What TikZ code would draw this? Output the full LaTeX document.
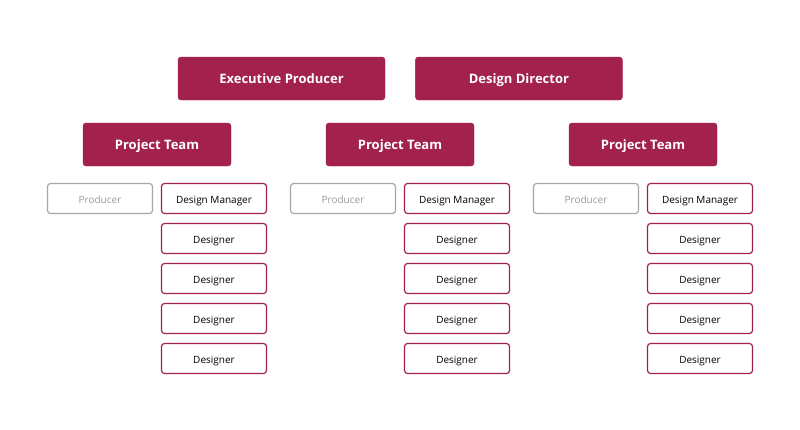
\documentclass[tikz,border=0pt]{standalone}
\usepackage{fontspec}
\setmainfont{Open Sans}
\usetikzlibrary{positioning,calc}
\definecolor{crimson}{HTML}{A3214D}
\definecolor{greyline}{HTML}{A6A6A6}
\definecolor{greytext}{HTML}{9A9A9A}
\tikzstyle{head} = [
  rectangle, fill = crimson, draw = crimson, rounded corners = 3pt,
  text = white, font = \fontsize{13}{15}\selectfont\bfseries,
  minimum width = 207pt, minimum height = 43pt, inner sep = 0pt,
  text height = 2.15ex, text depth = 0.35ex
]
\tikzstyle{team} = [
  head, minimum width = 148pt
]
\tikzstyle{member} = [
  rectangle, draw = crimson, line width = 1.2pt, rounded corners = 3pt,
  fill = white, font = \fontsize{10}{12}\selectfont,
  minimum width = 105pt, minimum height = 30pt, inner sep = 0pt,
  text height = 2.1ex, text depth = 0.35ex
]
\tikzstyle{prod} = [
  member, draw = greyline, text = greytext
]

\begin{document}
\begin{tikzpicture}
    \useasboundingbox (0,0) rectangle (800pt,-429pt);
    \node[head] (exec) at (281.5pt,-78.5pt) {Executive Producer};
    \node[head, right=30pt of exec] (director) {Design Director};

    \foreach \i/\x in {1/157,2/400,3/643} {
      \node[team] (team\i) at (\x pt,-144.5pt) {Project Team};
      \node[prod] (prod\i) at ([xshift=-57pt,yshift=-54pt] team\i) {Producer};
      \node[member, right=7.8pt of prod\i] (dm\i) {Design Manager};
      \foreach \j in {1,...,4}
        \node[member] (des\i\j) at ([yshift=-40*\j pt] dm\i) {Designer};
    }
  \end{tikzpicture}
\end{document}
